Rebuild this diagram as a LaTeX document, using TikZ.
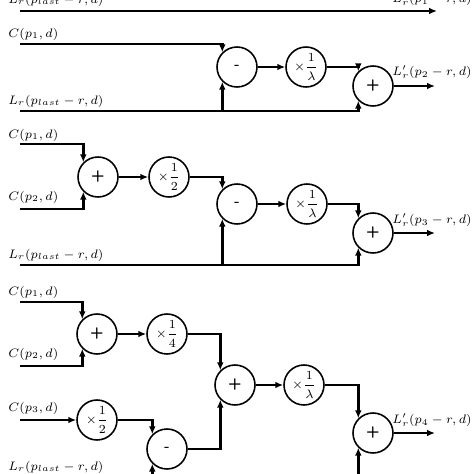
\documentclass[tikz,border=0pt]{standalone}
\usepackage{amsmath}
\usetikzlibrary{arrows.meta}
\begin{document}
\begin{tikzpicture}[x=0.02cm,y=-0.02cm,>={Latex[length=4.5pt,width=3.8pt]},
 font=\fontsize{7}{8.5}\selectfont,
 sumnode/.style={draw,circle,line width=.9pt,minimum size=.8cm,inner sep=0pt,font=\sffamily\bfseries\small},
 gainnode/.style={draw,circle,line width=.9pt,minimum size=.8cm,inner sep=0pt,font=\fontsize{7.5}{9}\selectfont},
 wire/.style={line width=1.5pt},
 sig/.style={inner sep=0pt}]
\useasboundingbox (0,0) rectangle (474,474);
\clip (0,0) rectangle (474,474);
% row 0: last block passed straight through
\node[sig,anchor=west] (l0in) at (8,0) {$L_r(p_{last}-r,d)$};
\node[sig] (l0out) at (432,-1) {$L'_r(p_1-r,d)$};
\coordinate (w0) at (20,11); \coordinate (e0) at (437,11);
\draw[wire,->] (w0)--(e0);
% row 1
\node[sig,anchor=west] (c1a) at (8,34) {$C(p_1,d)$};
\node[sig,anchor=west] (l1in) at (8,101) {$L_r(p_{last}-r,d)$};
\node[sumnode] (d1) at (237,67) {-};
\node[gainnode] (g1) at (306,67) {$\times\dfrac{1}{\lambda}$};
\node[sumnode] (s1) at (373,86) {+};
\node[sig] (l1out) at (432,72) {$L'_r(p_2-r,d)$};
\coordinate (c1w) at (20,44); \coordinate (l1w) at (20,111); \coordinate (o1) at (435,86);
\draw[wire,->] (c1w) -| (d1.135);
\draw[wire,->] (l1w) -| (s1.225);
\draw[wire,->] (d1.225 |- l1w) -- (d1.225);
\draw[wire,->] (d1)--(g1);
\draw[wire,->] (g1.east) -| (s1.135);
\draw[wire,->] (s1)--(o1);
% row 2
\node[sig,anchor=west] (c2a) at (8,135) {$C(p_1,d)$};
\node[sig,anchor=west] (c2b) at (8,197) {$C(p_2,d)$};
\node[sig,anchor=west] (l2in) at (8,255) {$L_r(p_{last}-r,d)$};
\node[sumnode] (a2) at (98,177) {+};
\node[gainnode] (h2) at (169,177) {$\times\dfrac{1}{2}$};
\node[sumnode] (d2) at (237,204) {-};
\node[gainnode] (g2) at (307,204) {$\times\dfrac{1}{\lambda}$};
\node[sumnode] (s2) at (373,233) {+};
\node[sig] (l2out) at (432,220) {$L'_r(p_3-r,d)$};
\coordinate (c2w) at (20,144); \coordinate (c2v) at (20,209);
\coordinate (l2w) at (20,265); \coordinate (o2) at (435,233);
\draw[wire,->] (c2w) -| (a2.135);
\draw[wire,->] (c2v) -| (a2.225);
\draw[wire,->] (a2)--(h2);
\draw[wire,->] (h2.east) -| (d2.135);
\draw[wire,->] (d2)--(g2);
\draw[wire,->] (g2.east) -| (s2.135);
\draw[wire,->] (l2w) -| (s2.225);
\draw[wire,->] (d2.225 |- l2w) -- (d2.225);
\draw[wire,->] (s2)--(o2);
% row 3
\node[sig,anchor=west] (c3a) at (8,292) {$C(p_1,d)$};
\node[sig,anchor=west] (c3b) at (8,354) {$C(p_2,d)$};
\node[sig,anchor=west] (c3c) at (8,408) {$C(p_3,d)$};
\node[sig,anchor=west] (l3in) at (8,467) {$L_r(p_{last}-r,d)$};
\node[sumnode] (a3) at (97,334) {+};
\node[gainnode] (q3) at (167,334) {$\times\dfrac{1}{4}$};
\node[gainnode] (h3) at (97,420) {$\times\dfrac{1}{2}$};
\node[sumnode] (d3) at (167,449) {-};
\node[sumnode] (b3) at (235,385) {+};
\node[gainnode] (g3) at (304,385) {$\times\dfrac{1}{\lambda}$};
\node[sumnode] (s3) at (373,433) {+};
\node[sig] (l3out) at (432,420) {$L'_r(p_4-r,d)$};
\coordinate (c3w) at (20,302); \coordinate (c3v) at (20,366); \coordinate (c3u) at (20,420);
\coordinate (l3w) at (20,479); \coordinate (o3) at (435,433);
\draw[wire,->] (c3w) -| (a3.135);
\draw[wire,->] (c3v) -| (a3.225);
\draw[wire,->] (a3)--(q3);
\draw[wire,->] (q3.east) -| (b3.135);
\draw[wire,->] (c3u)--(h3);
\draw[wire,->] (h3.east) -| (d3.135);
\draw[wire,->] (d3.east) -| (b3.225);
\draw[wire,->] (b3)--(g3);
\draw[wire,->] (g3.east) -| (s3.135);
\draw[wire,->] (l3w) -| (s3.225);
\draw[wire,->] (d3.225 |- l3w) -- (d3.225);
\draw[wire,->] (s3)--(o3);
\end{tikzpicture}
\end{document}
